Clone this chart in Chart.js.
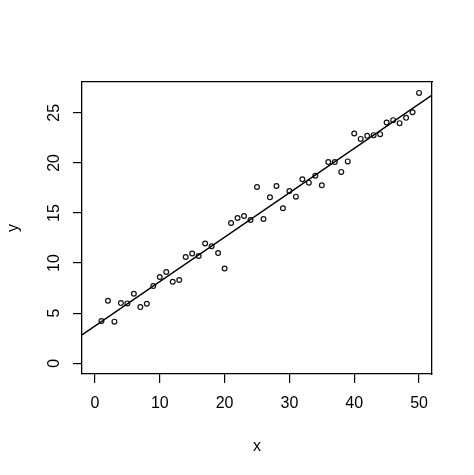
<!DOCTYPE html>
<html><head><meta charset="utf-8">
<script src="https://cdn.jsdelivr.net/npm/chart.js@4/dist/chart.umd.min.js"></script>
<style>html,body{margin:0;padding:0;background:#fff}#c{display:block}</style>
</head><body>
<canvas id="c" width="474" height="475"></canvas>
<script>
const xValues = [1,2,3,4,5,6,7,8,9,10,11,12,13,14,15,16,17,18,19,20,21,22,23,24,25,26,27,28,29,30,31,32,33,34,35,36,37,38,39,40,41,42,43,44,45,46,47,48,49,50];
const yValues = [4.21,6.24,4.15,6.0,5.97,6.93,5.6,5.94,7.7,8.6,9.1,8.13,8.3,10.6,10.95,10.7,11.95,11.68,11.0,9.46,14.0,14.5,14.7,14.3,17.6,14.4,16.56,17.7,15.47,17.2,16.63,18.37,18.03,18.72,17.76,20.08,20.08,19.1,20.15,22.94,22.4,22.7,22.77,22.87,24.03,24.27,23.97,24.5,25.06,26.99];
const xTicks = [0,10,20,30,40,50];
const yTicks = [0,5,10,15,20,25];
const xTitle = 'x';
const yTitle = 'y';

// least-squares fit line (abline(lm(y ~ x)))
const n = xValues.length;
const mx = xValues.reduce((a,b)=>a+b,0)/n;
const my = yValues.reduce((a,b)=>a+b,0)/n;
let sxy = 0, sxx = 0;
for (let i=0;i<n;i++){ sxy += (xValues[i]-mx)*(yValues[i]-my); sxx += (xValues[i]-mx)**2; }
const slope = sxy/sxx, intercept = my - slope*mx;

const X_MIN = -2, X_MAX = 52, Y_MIN = -1.08, Y_MAX = 28.08;
const FONT = {family:'"Liberation Sans", Arial, Helvetica, sans-serif', size:16};
const points = xValues.map((x,i)=>({x:x, y:yValues[i]}));
const lineData = [X_MIN, X_MAX].map(x=>({x:x, y:intercept+slope*x}));

new Chart(document.getElementById('c').getContext('2d'), {
  type:'scatter',
  data:{datasets:[
    {type:'line', data:lineData, borderColor:'#000', borderWidth:1.4, pointRadius:0, fill:false, tension:0},
    {data:points, pointStyle:'circle', pointRadius:2.4, borderColor:'#111', borderWidth:1.2, backgroundColor:'rgba(0,0,0,0)'}
  ]},
  options:{
    responsive:false, animation:false, devicePixelRatio:1,
    layout:{padding:0},
    plugins:{legend:{display:false}, tooltip:{enabled:false}},
    scales:{
      x:{type:'linear', position:'bottom', min:X_MIN, max:X_MAX,
        afterBuildTicks:s=>{s.ticks = xTicks.map(v=>({value:v}));},
        afterFit:s=>{s.height = 101;},
        grid:{display:true, drawOnChartArea:false, drawTicks:true, tickLength:9, color:'#000', lineWidth:1.2},
        border:{display:true, color:'#000', width:1.3},
        ticks:{color:'#000', font:FONT, padding:11, maxRotation:0, minRotation:0, autoSkip:false},
        title:{display:true, text:xTitle, color:'#000', font:FONT, padding:{top:0, bottom:19}}},
      y:{type:'linear', position:'left', min:Y_MIN, max:Y_MAX,
        afterBuildTicks:s=>{s.ticks = yTicks.map(v=>({value:v}));},
        afterFit:s=>{s.width = 82;},
        grid:{display:true, drawOnChartArea:false, drawTicks:true, tickLength:9, color:'#000', lineWidth:1.2},
        border:{display:true, color:'#000', width:1.3},
        ticks:{color:'#000', font:FONT, padding:10, minRotation:90, maxRotation:90, crossAlign:'center', autoSkip:false},
        title:{display:true, text:yTitle, color:'#000', font:FONT, padding:{top:4, bottom:0}}},
      x2:{type:'linear', position:'top', min:X_MIN, max:X_MAX,
        afterFit:s=>{s.height = 82;},
        grid:{display:false}, ticks:{display:false},
        border:{display:true, color:'#000', width:1.3}},
      y2:{type:'linear', position:'right', min:Y_MIN, max:Y_MAX,
        afterFit:s=>{s.width = 42;},
        grid:{display:false}, ticks:{display:false},
        border:{display:true, color:'#000', width:1.3}}
    }
  }
});
</script>
</body></html>
